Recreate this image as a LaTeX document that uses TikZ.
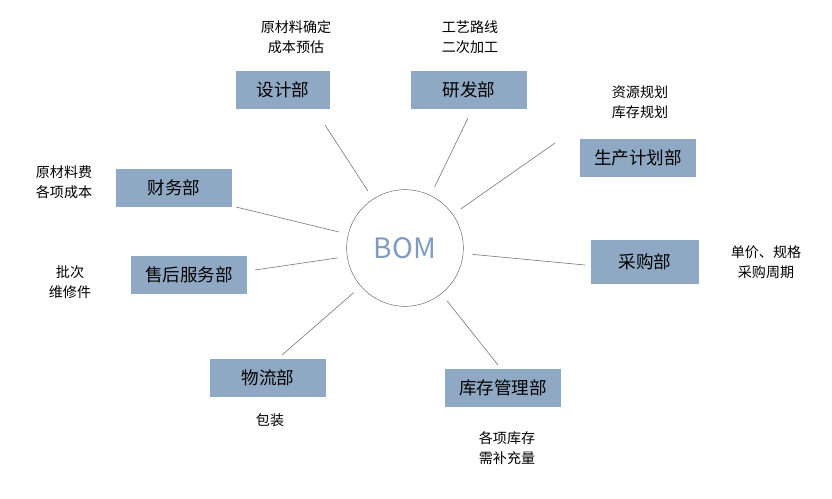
\documentclass[tikz,border=0pt]{standalone}
\usepackage{fontspec}
\setmainfont{Noto Sans CJK SC}
\usetikzlibrary{positioning}
\definecolor{boxblue}{HTML}{8FA9C4}
\definecolor{bomblue}{HTML}{7F9CC0}
\tikzset{dept/.style={fill=boxblue,minimum width=3.5cm,minimum height=1.15cm,font=\fontsize{15}{18}\selectfont},
 note/.style={align=center,font=\fontsize{12}{17}\selectfont},
 spoke/.style={draw=black!55,line width=0.5pt}}
\begin{document}
\begin{tikzpicture}[x=0.03cm,y=-0.03cm]
\useasboundingbox (0,0) rectangle (832,498);
\node[circle,draw=black!60,minimum size=3.5cm,text=bomblue,font=\fontsize{24}{28}\selectfont] (bom) at (405,248) {BOM};
\node[dept,minimum width=2.8cm] (sheji) at (283,90) {设计部};
\node[dept] (yanfa) at (469,90) {研发部};
\node[dept] (jihua) at (638,158) {生产计划部};
\node[dept] (caiwu) at (174,188) {财务部};
\node[dept] (shouhou) at (189,275) {售后服务部};
\node[dept,minimum width=3.25cm,minimum height=1.3cm] (caigou) at (645,262) {采购部};
\node[dept] (wuliu) at (268,378) {物流部};
\node[dept] (kucun) at (503,388) {库存管理部};
%notes
\node[note] (n1) at (296,37) {原材料确定\\成本预估};
\node[note] (n2) at (470,37) {工艺路线\\二次加工};
\node[note] (n3) at (640,102) {资源规划\\库存规划};
\node[note] (n4) at (64,182) {原材料费\\各项成本};
\node[note] (n5) at (70,282) {批次\\维修件};
\node[note] (n6) at (766,262) {单价、规格\\采购周期};
\node[note] (n7) at (270,420) {包装};
\node[note] (n8) at (507,448) {各项库存\\需补充量};
%spoke ends
\coordinate (e1) at (325,125);
\coordinate (e2) at (468,118);
\coordinate (e3) at (555,143);
\coordinate (e4) at (236,207);
\coordinate (e5) at (255,270);
\coordinate (e6) at (585,265);
\coordinate (e7) at (282,355);
\coordinate (e8) at (498,365);
\foreach \e in {e1,e2,e3,e4,e5,e6,e7,e8}
  \path[spoke,shorten <=8] (bom) -- (\e);
\end{tikzpicture}
\end{document}
